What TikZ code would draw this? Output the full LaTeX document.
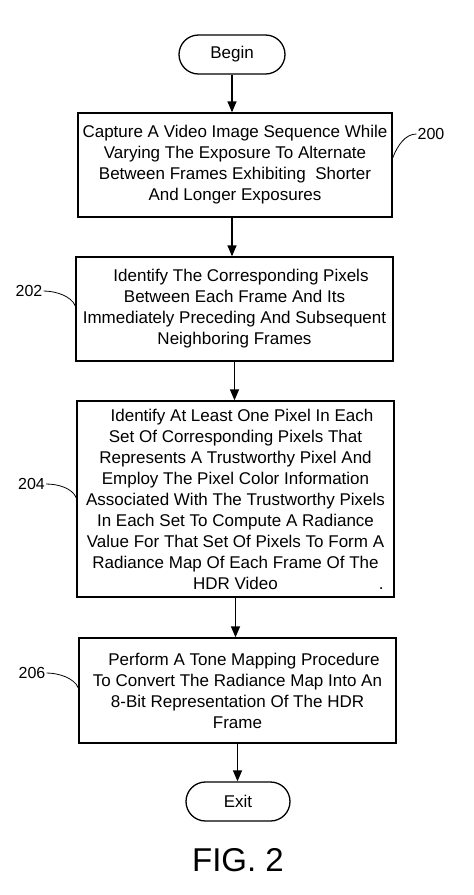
\documentclass[tikz,border=0pt]{standalone}
\usepackage{fontspec}
\setmainfont{Liberation Sans}
\usetikzlibrary{shapes.misc,arrows.meta}
\begin{document}
\begin{tikzpicture}[x=1pt,y=-1pt,
  boxtxt/.style={font=\fontsize{17}{21}\selectfont},
  stepbox/.style={draw,line width=1.3pt,rectangle,inner sep=0pt,align=center,boxtxt},
  term/.style={draw,line width=1.3pt,rounded rectangle,inner sep=0pt,align=center,boxtxt},
  flow/.style={line width=1.4pt,-{Triangle[length=11pt,width=9pt]}},
  refnum/.style={font=\fontsize{16}{18}\selectfont,inner sep=1pt},
  leader/.style={line width=0.8pt}]
\useasboundingbox (0,0) rectangle (474,895);
\fill[white] (0,0) rectangle (474,895);

\node[term,minimum width=106pt,minimum height=39pt] (begin) at (232,54.5) {Begin};

\node[stepbox,minimum width=314pt,minimum height=104pt] (b200) at (235,165)
 {Capture A Video Image Sequence While\\
  Varying The Exposure To Alternate\\
  Between Frames Exhibiting\ \ Shorter\\
  And Longer Exposures};

\node[stepbox,minimum width=317pt,minimum height=104pt] (b202) at (234.5,309)
 {\hspace*{13pt}Identify The Corresponding Pixels\\
  Between Each Frame And Its\\
  Immediately Preceding And Subsequent\\
  Neighboring Frames};

\node[stepbox,minimum width=317pt,minimum height=196pt] (b204) at (235.5,499)
 {\hspace*{13pt}Identify At Least One Pixel In Each\\
  Set Of Corresponding Pixels That\\
  Represents A Trustworthy Pixel And\\
  Employ The Pixel Color Information\\
  Associated With The Trustworthy Pixels\\
  In Each Set To Compute A Radiance\\
  Value For That Set Of Pixels To Form A\\
  Radiance Map Of Each Frame Of The\\
  HDR Video\rlap{\hspace*{101pt}.}};

\node[stepbox,minimum width=317pt,minimum height=105pt] (b206) at (237.5,690.5)
 {\hspace*{13pt}Perform A Tone Mapping Procedure\\
  To Convert The Radiance Map Into An\\
  8-Bit Representation Of The HDR\\
  Frame};

\node[term,minimum width=104pt,minimum height=39pt] (exit) at (238,801.5) {Exit};

\node[font=\fontsize{33}{36}\selectfont,inner sep=0pt] (fig) at (238,860) {FIG. 2};

\draw[flow] (begin.south) -- (begin.south |- b200.north);
\draw[flow] (b200.south -| begin.south) -- (begin.south |- b202.north);
\draw[flow] (b202.south) -- (b202.south |- b204.north);
\draw[flow] (b204.south) -- (b204.south |- b206.north);
\draw[flow] (b206.south) -- (b206.south |- exit.north);

\node[refnum] (l200) at (431,134) {200};
\node[refnum] (l202) at (29,291) {202};
\node[refnum] (l204) at (31.5,484) {204};
\node[refnum] (l206) at (32,673) {206};

\draw[leader] ([yshift=7pt]b200.east) .. controls +(5,-13) and +(-11,0) .. (l200.west);
\draw[leader] (l202.east) .. controls +(12,0) and +(-4,-10) .. ([yshift=3pt]b202.west);
\draw[leader] (l204.east) .. controls +(12,0) and +(-4,-10) .. ([yshift=1pt]b204.west);
\draw[leader] (l206.east) .. controls +(12,0) and +(-4,-10) .. ([yshift=2.5pt]b206.west);
\end{tikzpicture}
\end{document}
